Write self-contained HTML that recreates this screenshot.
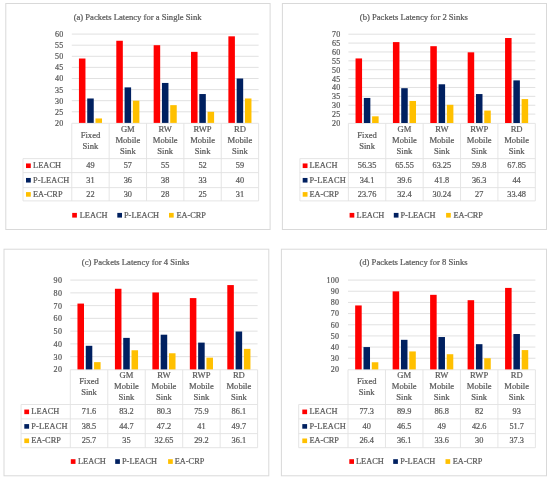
<!DOCTYPE html>
<html><head><meta charset="utf-8"><title>Packets Latency</title>
<style>
html,body{margin:0;padding:0;background:#fff;}
body{width:550px;height:480px;overflow:hidden;}
svg{display:block;}
.t{font-family:'Liberation Serif', serif;fill:#595959;stroke:#595959;stroke-width:0.22px;}
</style></head><body>
<svg width="550" height="480" viewBox="0 0 550 480">
<g>
<rect width="550" height="480" fill="#fff"/>
<rect x="5.8" y="3.5" width="264.3" height="226" fill="#fff" stroke="#d9d9d9" stroke-width="1"/>
<text x="137.6" y="19.6" text-anchor="middle" font-size="8.6" class="t">(a) Packets Latency for a Single Sink</text>
<text x="63.6" y="125.8" text-anchor="end" font-size="8.0" letter-spacing="0.3" class="t">20</text>
<line x1="71.8" x2="258.6" y1="111.8" y2="111.8" stroke="#dedede" stroke-width="0.9"/>
<text x="63.6" y="114.7" text-anchor="end" font-size="8.0" letter-spacing="0.3" class="t">25</text>
<line x1="71.8" x2="258.6" y1="100.7" y2="100.7" stroke="#dedede" stroke-width="0.9"/>
<text x="63.6" y="103.6" text-anchor="end" font-size="8.0" letter-spacing="0.3" class="t">30</text>
<line x1="71.8" x2="258.6" y1="89.6" y2="89.6" stroke="#dedede" stroke-width="0.9"/>
<text x="63.6" y="92.5" text-anchor="end" font-size="8.0" letter-spacing="0.3" class="t">35</text>
<line x1="71.8" x2="258.6" y1="78.5" y2="78.5" stroke="#dedede" stroke-width="0.9"/>
<text x="63.6" y="81.4" text-anchor="end" font-size="8.0" letter-spacing="0.3" class="t">40</text>
<line x1="71.8" x2="258.6" y1="67.4" y2="67.4" stroke="#dedede" stroke-width="0.9"/>
<text x="63.6" y="70.3" text-anchor="end" font-size="8.0" letter-spacing="0.3" class="t">45</text>
<line x1="71.8" x2="258.6" y1="56.3" y2="56.3" stroke="#dedede" stroke-width="0.9"/>
<text x="63.6" y="59.2" text-anchor="end" font-size="8.0" letter-spacing="0.3" class="t">50</text>
<line x1="71.8" x2="258.6" y1="45.2" y2="45.2" stroke="#dedede" stroke-width="0.9"/>
<text x="63.6" y="48.1" text-anchor="end" font-size="8.0" letter-spacing="0.3" class="t">55</text>
<line x1="71.8" x2="258.6" y1="34.1" y2="34.1" stroke="#dedede" stroke-width="0.9"/>
<text x="63.6" y="37" text-anchor="end" font-size="8.0" letter-spacing="0.3" class="t">60</text>
<line x1="71.8" y1="123.3" x2="71.8" y2="200.9" stroke="#e2e2e2" stroke-width="0.9"/>
<line x1="109.16" y1="123.3" x2="109.16" y2="200.9" stroke="#e2e2e2" stroke-width="0.9"/>
<line x1="146.52" y1="123.3" x2="146.52" y2="200.9" stroke="#e2e2e2" stroke-width="0.9"/>
<line x1="183.88" y1="123.3" x2="183.88" y2="200.9" stroke="#e2e2e2" stroke-width="0.9"/>
<line x1="221.24" y1="123.3" x2="221.24" y2="200.9" stroke="#e2e2e2" stroke-width="0.9"/>
<line x1="258.6" y1="123.3" x2="258.6" y2="200.9" stroke="#e2e2e2" stroke-width="0.9"/>
<line x1="23" y1="158.6" x2="23" y2="200.9" stroke="#e2e2e2" stroke-width="0.9"/>
<line x1="71.8" y1="123.3" x2="258.6" y2="123.3" stroke="#e2e2e2" stroke-width="0.9"/>
<line x1="23" y1="158.6" x2="258.6" y2="158.6" stroke="#e2e2e2" stroke-width="0.9"/>
<line x1="23" y1="172.6" x2="258.6" y2="172.6" stroke="#e2e2e2" stroke-width="0.9"/>
<line x1="23" y1="187.6" x2="258.6" y2="187.6" stroke="#e2e2e2" stroke-width="0.9"/>
<line x1="23" y1="200.9" x2="258.6" y2="200.9" stroke="#e2e2e2" stroke-width="0.9"/>
<rect x="78.94" y="58.52" width="6.52" height="64.38" fill="#ff0000"/>
<rect x="116.3" y="40.76" width="6.52" height="82.14" fill="#ff0000"/>
<rect x="153.66" y="45.2" width="6.52" height="77.7" fill="#ff0000"/>
<rect x="191.02" y="51.86" width="6.52" height="71.04" fill="#ff0000"/>
<rect x="228.38" y="36.32" width="6.52" height="86.58" fill="#ff0000"/>
<rect x="87.22" y="98.48" width="6.52" height="24.42" fill="#002060"/>
<rect x="124.58" y="87.38" width="6.52" height="35.52" fill="#002060"/>
<rect x="161.94" y="82.94" width="6.52" height="39.96" fill="#002060"/>
<rect x="199.3" y="94.04" width="6.52" height="28.86" fill="#002060"/>
<rect x="236.66" y="78.5" width="6.52" height="44.4" fill="#002060"/>
<rect x="95.5" y="118.46" width="6.52" height="4.44" fill="#ffc000"/>
<rect x="132.86" y="100.7" width="6.52" height="22.2" fill="#ffc000"/>
<rect x="170.22" y="105.14" width="6.52" height="17.76" fill="#ffc000"/>
<rect x="207.58" y="111.8" width="6.52" height="11.1" fill="#ffc000"/>
<rect x="244.94" y="98.48" width="6.52" height="24.42" fill="#ffc000"/>
<text x="90.48" y="137.65" text-anchor="middle" font-size="8.6" class="t">Fixed</text>
<text x="90.48" y="148.65" text-anchor="middle" font-size="8.6" class="t">Sink</text>
<text x="127.84" y="132.15" text-anchor="middle" font-size="8.6" class="t">GM</text>
<text x="127.84" y="143.15" text-anchor="middle" font-size="8.6" class="t">Mobile</text>
<text x="127.84" y="154.15" text-anchor="middle" font-size="8.6" class="t">Sink</text>
<text x="165.2" y="132.15" text-anchor="middle" font-size="8.6" class="t">RW</text>
<text x="165.2" y="143.15" text-anchor="middle" font-size="8.6" class="t">Mobile</text>
<text x="165.2" y="154.15" text-anchor="middle" font-size="8.6" class="t">Sink</text>
<text x="202.56" y="132.15" text-anchor="middle" font-size="8.6" class="t">RWP</text>
<text x="202.56" y="143.15" text-anchor="middle" font-size="8.6" class="t">Mobile</text>
<text x="202.56" y="154.15" text-anchor="middle" font-size="8.6" class="t">Sink</text>
<text x="239.92" y="132.15" text-anchor="middle" font-size="8.6" class="t">RD</text>
<text x="239.92" y="143.15" text-anchor="middle" font-size="8.6" class="t">Mobile</text>
<text x="239.92" y="154.15" text-anchor="middle" font-size="8.6" class="t">Sink</text>
<rect x="26" y="163.45" width="4.8" height="4.6" fill="#ff0000"/>
<text x="33" y="168.05" font-size="8.3" letter-spacing="0.1" class="t">LEACH</text>
<text x="90.48" y="168.05" text-anchor="middle" font-size="8.3" class="t">49</text>
<text x="127.84" y="168.05" text-anchor="middle" font-size="8.3" class="t">57</text>
<text x="165.2" y="168.05" text-anchor="middle" font-size="8.3" class="t">55</text>
<text x="202.56" y="168.05" text-anchor="middle" font-size="8.3" class="t">52</text>
<text x="239.92" y="168.05" text-anchor="middle" font-size="8.3" class="t">59</text>
<rect x="26" y="177.95" width="4.8" height="4.6" fill="#002060"/>
<text x="33" y="182.55" font-size="8.3" letter-spacing="0.2" class="t">P-LEACH</text>
<text x="90.48" y="182.55" text-anchor="middle" font-size="8.3" class="t">31</text>
<text x="127.84" y="182.55" text-anchor="middle" font-size="8.3" class="t">36</text>
<text x="165.2" y="182.55" text-anchor="middle" font-size="8.3" class="t">38</text>
<text x="202.56" y="182.55" text-anchor="middle" font-size="8.3" class="t">33</text>
<text x="239.92" y="182.55" text-anchor="middle" font-size="8.3" class="t">40</text>
<rect x="26" y="192.1" width="4.8" height="4.6" fill="#ffc000"/>
<text x="33" y="196.7" font-size="8.3" class="t">EA-CRP</text>
<text x="90.48" y="196.7" text-anchor="middle" font-size="8.3" class="t">22</text>
<text x="127.84" y="196.7" text-anchor="middle" font-size="8.3" class="t">30</text>
<text x="165.2" y="196.7" text-anchor="middle" font-size="8.3" class="t">28</text>
<text x="202.56" y="196.7" text-anchor="middle" font-size="8.3" class="t">25</text>
<text x="239.92" y="196.7" text-anchor="middle" font-size="8.3" class="t">31</text>
<rect x="72.2" y="212.9" width="4.7" height="4.7" fill="#ff0000"/>
<text x="79.8" y="217.8" font-size="8.3" class="t">LEACH</text>
<rect x="117.3" y="212.9" width="4.7" height="4.7" fill="#002060"/>
<text x="124" y="217.8" font-size="8.3" class="t">P-LEACH</text>
<rect x="169" y="212.9" width="4.7" height="4.7" fill="#ffc000"/>
<text x="176.4" y="217.8" font-size="8.3" class="t">EA-CRP</text>
<rect x="282.4" y="3.5" width="264.1" height="226" fill="#fff" stroke="#d9d9d9" stroke-width="1"/>
<text x="413.9" y="19.6" text-anchor="middle" font-size="8.6" class="t">(b) Packets Latency for 2 Sinks</text>
<text x="340.6" y="125.9" text-anchor="end" font-size="8.0" letter-spacing="0.3" class="t">20</text>
<line x1="348.4" x2="535.3" y1="114.12" y2="114.12" stroke="#dedede" stroke-width="0.9"/>
<text x="340.6" y="117.02" text-anchor="end" font-size="8.0" letter-spacing="0.3" class="t">25</text>
<line x1="348.4" x2="535.3" y1="105.24" y2="105.24" stroke="#dedede" stroke-width="0.9"/>
<text x="340.6" y="108.14" text-anchor="end" font-size="8.0" letter-spacing="0.3" class="t">30</text>
<line x1="348.4" x2="535.3" y1="96.36" y2="96.36" stroke="#dedede" stroke-width="0.9"/>
<text x="340.6" y="99.26" text-anchor="end" font-size="8.0" letter-spacing="0.3" class="t">35</text>
<line x1="348.4" x2="535.3" y1="87.48" y2="87.48" stroke="#dedede" stroke-width="0.9"/>
<text x="340.6" y="90.38" text-anchor="end" font-size="8.0" letter-spacing="0.3" class="t">40</text>
<line x1="348.4" x2="535.3" y1="78.6" y2="78.6" stroke="#dedede" stroke-width="0.9"/>
<text x="340.6" y="81.5" text-anchor="end" font-size="8.0" letter-spacing="0.3" class="t">45</text>
<line x1="348.4" x2="535.3" y1="69.72" y2="69.72" stroke="#dedede" stroke-width="0.9"/>
<text x="340.6" y="72.62" text-anchor="end" font-size="8.0" letter-spacing="0.3" class="t">50</text>
<line x1="348.4" x2="535.3" y1="60.84" y2="60.84" stroke="#dedede" stroke-width="0.9"/>
<text x="340.6" y="63.74" text-anchor="end" font-size="8.0" letter-spacing="0.3" class="t">55</text>
<line x1="348.4" x2="535.3" y1="51.96" y2="51.96" stroke="#dedede" stroke-width="0.9"/>
<text x="340.6" y="54.86" text-anchor="end" font-size="8.0" letter-spacing="0.3" class="t">60</text>
<line x1="348.4" x2="535.3" y1="43.08" y2="43.08" stroke="#dedede" stroke-width="0.9"/>
<text x="340.6" y="45.98" text-anchor="end" font-size="8.0" letter-spacing="0.3" class="t">65</text>
<line x1="348.4" x2="535.3" y1="34.2" y2="34.2" stroke="#dedede" stroke-width="0.9"/>
<text x="340.6" y="37.1" text-anchor="end" font-size="8.0" letter-spacing="0.3" class="t">70</text>
<line x1="348.4" y1="123.4" x2="348.4" y2="200.9" stroke="#e2e2e2" stroke-width="0.9"/>
<line x1="385.78" y1="123.4" x2="385.78" y2="200.9" stroke="#e2e2e2" stroke-width="0.9"/>
<line x1="423.16" y1="123.4" x2="423.16" y2="200.9" stroke="#e2e2e2" stroke-width="0.9"/>
<line x1="460.54" y1="123.4" x2="460.54" y2="200.9" stroke="#e2e2e2" stroke-width="0.9"/>
<line x1="497.92" y1="123.4" x2="497.92" y2="200.9" stroke="#e2e2e2" stroke-width="0.9"/>
<line x1="535.3" y1="123.4" x2="535.3" y2="200.9" stroke="#e2e2e2" stroke-width="0.9"/>
<line x1="299.9" y1="158.6" x2="299.9" y2="200.9" stroke="#e2e2e2" stroke-width="0.9"/>
<line x1="348.4" y1="123.4" x2="535.3" y2="123.4" stroke="#e2e2e2" stroke-width="0.9"/>
<line x1="299.9" y1="158.6" x2="535.3" y2="158.6" stroke="#e2e2e2" stroke-width="0.9"/>
<line x1="299.9" y1="172.6" x2="535.3" y2="172.6" stroke="#e2e2e2" stroke-width="0.9"/>
<line x1="299.9" y1="187.6" x2="535.3" y2="187.6" stroke="#e2e2e2" stroke-width="0.9"/>
<line x1="299.9" y1="200.9" x2="535.3" y2="200.9" stroke="#e2e2e2" stroke-width="0.9"/>
<rect x="355.54" y="58.44" width="6.52" height="64.56" fill="#ff0000"/>
<rect x="392.92" y="42.1" width="6.52" height="80.9" fill="#ff0000"/>
<rect x="430.3" y="46.19" width="6.52" height="76.81" fill="#ff0000"/>
<rect x="467.68" y="52.32" width="6.52" height="70.68" fill="#ff0000"/>
<rect x="505.06" y="38.02" width="6.52" height="84.98" fill="#ff0000"/>
<rect x="363.83" y="97.96" width="6.52" height="25.04" fill="#002060"/>
<rect x="401.21" y="88.19" width="6.52" height="34.81" fill="#002060"/>
<rect x="438.59" y="84.28" width="6.52" height="38.72" fill="#002060"/>
<rect x="475.97" y="94.05" width="6.52" height="28.95" fill="#002060"/>
<rect x="513.35" y="80.38" width="6.52" height="42.62" fill="#002060"/>
<rect x="372.11" y="116.32" width="6.52" height="6.68" fill="#ffc000"/>
<rect x="409.49" y="100.98" width="6.52" height="22.02" fill="#ffc000"/>
<rect x="446.87" y="104.81" width="6.52" height="18.19" fill="#ffc000"/>
<rect x="484.25" y="110.57" width="6.52" height="12.43" fill="#ffc000"/>
<rect x="521.63" y="99.06" width="6.52" height="23.94" fill="#ffc000"/>
<text x="367.09" y="137.7" text-anchor="middle" font-size="8.6" class="t">Fixed</text>
<text x="367.09" y="148.7" text-anchor="middle" font-size="8.6" class="t">Sink</text>
<text x="404.47" y="132.2" text-anchor="middle" font-size="8.6" class="t">GM</text>
<text x="404.47" y="143.2" text-anchor="middle" font-size="8.6" class="t">Mobile</text>
<text x="404.47" y="154.2" text-anchor="middle" font-size="8.6" class="t">Sink</text>
<text x="441.85" y="132.2" text-anchor="middle" font-size="8.6" class="t">RW</text>
<text x="441.85" y="143.2" text-anchor="middle" font-size="8.6" class="t">Mobile</text>
<text x="441.85" y="154.2" text-anchor="middle" font-size="8.6" class="t">Sink</text>
<text x="479.23" y="132.2" text-anchor="middle" font-size="8.6" class="t">RWP</text>
<text x="479.23" y="143.2" text-anchor="middle" font-size="8.6" class="t">Mobile</text>
<text x="479.23" y="154.2" text-anchor="middle" font-size="8.6" class="t">Sink</text>
<text x="516.61" y="132.2" text-anchor="middle" font-size="8.6" class="t">RD</text>
<text x="516.61" y="143.2" text-anchor="middle" font-size="8.6" class="t">Mobile</text>
<text x="516.61" y="154.2" text-anchor="middle" font-size="8.6" class="t">Sink</text>
<rect x="302.7" y="163.45" width="4.8" height="4.6" fill="#ff0000"/>
<text x="309.4" y="168.05" font-size="8.3" letter-spacing="0.1" class="t">LEACH</text>
<text x="367.09" y="168.05" text-anchor="middle" font-size="8.3" class="t">56.35</text>
<text x="404.47" y="168.05" text-anchor="middle" font-size="8.3" class="t">65.55</text>
<text x="441.85" y="168.05" text-anchor="middle" font-size="8.3" class="t">63.25</text>
<text x="479.23" y="168.05" text-anchor="middle" font-size="8.3" class="t">59.8</text>
<text x="516.61" y="168.05" text-anchor="middle" font-size="8.3" class="t">67.85</text>
<rect x="302.7" y="177.95" width="4.8" height="4.6" fill="#002060"/>
<text x="309.4" y="182.55" font-size="8.3" letter-spacing="0.2" class="t">P-LEACH</text>
<text x="367.09" y="182.55" text-anchor="middle" font-size="8.3" class="t">34.1</text>
<text x="404.47" y="182.55" text-anchor="middle" font-size="8.3" class="t">39.6</text>
<text x="441.85" y="182.55" text-anchor="middle" font-size="8.3" class="t">41.8</text>
<text x="479.23" y="182.55" text-anchor="middle" font-size="8.3" class="t">36.3</text>
<text x="516.61" y="182.55" text-anchor="middle" font-size="8.3" class="t">44</text>
<rect x="302.7" y="192.1" width="4.8" height="4.6" fill="#ffc000"/>
<text x="309.4" y="196.7" font-size="8.3" class="t">EA-CRP</text>
<text x="367.09" y="196.7" text-anchor="middle" font-size="8.3" class="t">23.76</text>
<text x="404.47" y="196.7" text-anchor="middle" font-size="8.3" class="t">32.4</text>
<text x="441.85" y="196.7" text-anchor="middle" font-size="8.3" class="t">30.24</text>
<text x="479.23" y="196.7" text-anchor="middle" font-size="8.3" class="t">27</text>
<text x="516.61" y="196.7" text-anchor="middle" font-size="8.3" class="t">33.48</text>
<rect x="349.6" y="212.9" width="4.7" height="4.7" fill="#ff0000"/>
<text x="356.6" y="217.8" font-size="8.3" class="t">LEACH</text>
<rect x="393.8" y="212.9" width="4.7" height="4.7" fill="#002060"/>
<text x="400.5" y="217.8" font-size="8.3" class="t">P-LEACH</text>
<rect x="446.1" y="212.9" width="4.7" height="4.7" fill="#ffc000"/>
<text x="453.4" y="217.8" font-size="8.3" class="t">EA-CRP</text>
<rect x="4" y="249.2" width="264.8" height="226.6" fill="#fff" stroke="#d9d9d9" stroke-width="1"/>
<text x="135.6" y="264.6" text-anchor="middle" font-size="8.6" class="t">(c) Packets Latency for 4 Sinks</text>
<text x="62.2" y="372.3" text-anchor="end" font-size="8.0" letter-spacing="0.3" class="t">20</text>
<line x1="70.3" x2="257.6" y1="356.64" y2="356.64" stroke="#dedede" stroke-width="0.9"/>
<text x="62.2" y="359.54" text-anchor="end" font-size="8.0" letter-spacing="0.3" class="t">30</text>
<line x1="70.3" x2="257.6" y1="343.89" y2="343.89" stroke="#dedede" stroke-width="0.9"/>
<text x="62.2" y="346.79" text-anchor="end" font-size="8.0" letter-spacing="0.3" class="t">40</text>
<line x1="70.3" x2="257.6" y1="331.13" y2="331.13" stroke="#dedede" stroke-width="0.9"/>
<text x="62.2" y="334.03" text-anchor="end" font-size="8.0" letter-spacing="0.3" class="t">50</text>
<line x1="70.3" x2="257.6" y1="318.37" y2="318.37" stroke="#dedede" stroke-width="0.9"/>
<text x="62.2" y="321.27" text-anchor="end" font-size="8.0" letter-spacing="0.3" class="t">60</text>
<line x1="70.3" x2="257.6" y1="305.61" y2="305.61" stroke="#dedede" stroke-width="0.9"/>
<text x="62.2" y="308.51" text-anchor="end" font-size="8.0" letter-spacing="0.3" class="t">70</text>
<line x1="70.3" x2="257.6" y1="292.86" y2="292.86" stroke="#dedede" stroke-width="0.9"/>
<text x="62.2" y="295.76" text-anchor="end" font-size="8.0" letter-spacing="0.3" class="t">80</text>
<line x1="70.3" x2="257.6" y1="280.1" y2="280.1" stroke="#dedede" stroke-width="0.9"/>
<text x="62.2" y="283" text-anchor="end" font-size="8.0" letter-spacing="0.3" class="t">90</text>
<line x1="70.3" y1="369.8" x2="70.3" y2="447.7" stroke="#e2e2e2" stroke-width="0.9"/>
<line x1="107.76" y1="369.8" x2="107.76" y2="447.7" stroke="#e2e2e2" stroke-width="0.9"/>
<line x1="145.22" y1="369.8" x2="145.22" y2="447.7" stroke="#e2e2e2" stroke-width="0.9"/>
<line x1="182.68" y1="369.8" x2="182.68" y2="447.7" stroke="#e2e2e2" stroke-width="0.9"/>
<line x1="220.14" y1="369.8" x2="220.14" y2="447.7" stroke="#e2e2e2" stroke-width="0.9"/>
<line x1="257.6" y1="369.8" x2="257.6" y2="447.7" stroke="#e2e2e2" stroke-width="0.9"/>
<line x1="21.1" y1="404.5" x2="21.1" y2="447.7" stroke="#e2e2e2" stroke-width="0.9"/>
<line x1="70.3" y1="369.8" x2="257.6" y2="369.8" stroke="#e2e2e2" stroke-width="0.9"/>
<line x1="21.1" y1="404.5" x2="257.6" y2="404.5" stroke="#e2e2e2" stroke-width="0.9"/>
<line x1="21.1" y1="418.9" x2="257.6" y2="418.9" stroke="#e2e2e2" stroke-width="0.9"/>
<line x1="21.1" y1="433.6" x2="257.6" y2="433.6" stroke="#e2e2e2" stroke-width="0.9"/>
<line x1="21.1" y1="447.7" x2="257.6" y2="447.7" stroke="#e2e2e2" stroke-width="0.9"/>
<rect x="77.46" y="303.57" width="6.54" height="65.83" fill="#ff0000"/>
<rect x="114.92" y="288.77" width="6.54" height="80.63" fill="#ff0000"/>
<rect x="152.38" y="292.47" width="6.54" height="76.93" fill="#ff0000"/>
<rect x="189.84" y="298.09" width="6.54" height="71.31" fill="#ff0000"/>
<rect x="227.3" y="285.08" width="6.54" height="84.32" fill="#ff0000"/>
<rect x="85.76" y="345.8" width="6.54" height="23.6" fill="#002060"/>
<rect x="123.22" y="337.89" width="6.54" height="31.51" fill="#002060"/>
<rect x="160.68" y="334.7" width="6.54" height="34.7" fill="#002060"/>
<rect x="198.14" y="342.61" width="6.54" height="26.79" fill="#002060"/>
<rect x="235.6" y="331.51" width="6.54" height="37.89" fill="#002060"/>
<rect x="94.06" y="362.13" width="6.54" height="7.27" fill="#ffc000"/>
<rect x="131.52" y="350.26" width="6.54" height="19.14" fill="#ffc000"/>
<rect x="168.98" y="353.26" width="6.54" height="16.14" fill="#ffc000"/>
<rect x="206.44" y="357.66" width="6.54" height="11.74" fill="#ffc000"/>
<rect x="243.9" y="348.86" width="6.54" height="20.54" fill="#ffc000"/>
<text x="89.03" y="383.85" text-anchor="middle" font-size="8.6" class="t">Fixed</text>
<text x="89.03" y="394.85" text-anchor="middle" font-size="8.6" class="t">Sink</text>
<text x="126.49" y="378.35" text-anchor="middle" font-size="8.6" class="t">GM</text>
<text x="126.49" y="389.35" text-anchor="middle" font-size="8.6" class="t">Mobile</text>
<text x="126.49" y="400.35" text-anchor="middle" font-size="8.6" class="t">Sink</text>
<text x="163.95" y="378.35" text-anchor="middle" font-size="8.6" class="t">RW</text>
<text x="163.95" y="389.35" text-anchor="middle" font-size="8.6" class="t">Mobile</text>
<text x="163.95" y="400.35" text-anchor="middle" font-size="8.6" class="t">Sink</text>
<text x="201.41" y="378.35" text-anchor="middle" font-size="8.6" class="t">RWP</text>
<text x="201.41" y="389.35" text-anchor="middle" font-size="8.6" class="t">Mobile</text>
<text x="201.41" y="400.35" text-anchor="middle" font-size="8.6" class="t">Sink</text>
<text x="238.87" y="378.35" text-anchor="middle" font-size="8.6" class="t">RD</text>
<text x="238.87" y="389.35" text-anchor="middle" font-size="8.6" class="t">Mobile</text>
<text x="238.87" y="400.35" text-anchor="middle" font-size="8.6" class="t">Sink</text>
<rect x="24.3" y="409.55" width="4.8" height="4.6" fill="#ff0000"/>
<text x="31.3" y="414.15" font-size="8.3" letter-spacing="0.1" class="t">LEACH</text>
<text x="89.03" y="414.15" text-anchor="middle" font-size="8.3" class="t">71.6</text>
<text x="126.49" y="414.15" text-anchor="middle" font-size="8.3" class="t">83.2</text>
<text x="163.95" y="414.15" text-anchor="middle" font-size="8.3" class="t">80.3</text>
<text x="201.41" y="414.15" text-anchor="middle" font-size="8.3" class="t">75.9</text>
<text x="238.87" y="414.15" text-anchor="middle" font-size="8.3" class="t">86.1</text>
<rect x="24.3" y="424.1" width="4.8" height="4.6" fill="#002060"/>
<text x="31.3" y="428.7" font-size="8.3" letter-spacing="0.2" class="t">P-LEACH</text>
<text x="89.03" y="428.7" text-anchor="middle" font-size="8.3" class="t">38.5</text>
<text x="126.49" y="428.7" text-anchor="middle" font-size="8.3" class="t">44.7</text>
<text x="163.95" y="428.7" text-anchor="middle" font-size="8.3" class="t">47.2</text>
<text x="201.41" y="428.7" text-anchor="middle" font-size="8.3" class="t">41</text>
<text x="238.87" y="428.7" text-anchor="middle" font-size="8.3" class="t">49.7</text>
<rect x="24.3" y="438.5" width="4.8" height="4.6" fill="#ffc000"/>
<text x="31.3" y="443.1" font-size="8.3" class="t">EA-CRP</text>
<text x="89.03" y="443.1" text-anchor="middle" font-size="8.3" class="t">25.7</text>
<text x="126.49" y="443.1" text-anchor="middle" font-size="8.3" class="t">35</text>
<text x="163.95" y="443.1" text-anchor="middle" font-size="8.3" class="t">32.65</text>
<text x="201.41" y="443.1" text-anchor="middle" font-size="8.3" class="t">29.2</text>
<text x="238.87" y="443.1" text-anchor="middle" font-size="8.3" class="t">36.1</text>
<rect x="70.8" y="459.2" width="4.7" height="4.7" fill="#ff0000"/>
<text x="78" y="464.1" font-size="8.3" class="t">LEACH</text>
<rect x="115.2" y="459.2" width="4.7" height="4.7" fill="#002060"/>
<text x="122" y="464.1" font-size="8.3" class="t">P-LEACH</text>
<rect x="168.1" y="459.2" width="4.7" height="4.7" fill="#ffc000"/>
<text x="174.8" y="464.1" font-size="8.3" class="t">EA-CRP</text>
<rect x="281.4" y="249.2" width="265.1" height="226.6" fill="#fff" stroke="#d9d9d9" stroke-width="1"/>
<text x="413.5" y="264.6" text-anchor="middle" font-size="8.6" class="t">(d) Packets Latency for 8 Sinks</text>
<text x="339.4" y="372.3" text-anchor="end" font-size="8.0" letter-spacing="0.3" class="t">20</text>
<line x1="348" x2="535.4" y1="358.24" y2="358.24" stroke="#dedede" stroke-width="0.9"/>
<text x="339.4" y="361.14" text-anchor="end" font-size="8.0" letter-spacing="0.3" class="t">30</text>
<line x1="348" x2="535.4" y1="347.07" y2="347.07" stroke="#dedede" stroke-width="0.9"/>
<text x="339.4" y="349.97" text-anchor="end" font-size="8.0" letter-spacing="0.3" class="t">40</text>
<line x1="348" x2="535.4" y1="335.91" y2="335.91" stroke="#dedede" stroke-width="0.9"/>
<text x="339.4" y="338.81" text-anchor="end" font-size="8.0" letter-spacing="0.3" class="t">50</text>
<line x1="348" x2="535.4" y1="324.75" y2="324.75" stroke="#dedede" stroke-width="0.9"/>
<text x="339.4" y="327.65" text-anchor="end" font-size="8.0" letter-spacing="0.3" class="t">60</text>
<line x1="348" x2="535.4" y1="313.59" y2="313.59" stroke="#dedede" stroke-width="0.9"/>
<text x="339.4" y="316.49" text-anchor="end" font-size="8.0" letter-spacing="0.3" class="t">70</text>
<line x1="348" x2="535.4" y1="302.43" y2="302.43" stroke="#dedede" stroke-width="0.9"/>
<text x="339.4" y="305.32" text-anchor="end" font-size="8.0" letter-spacing="0.3" class="t">80</text>
<line x1="348" x2="535.4" y1="291.26" y2="291.26" stroke="#dedede" stroke-width="0.9"/>
<text x="339.4" y="294.16" text-anchor="end" font-size="8.0" letter-spacing="0.3" class="t">90</text>
<line x1="348" x2="535.4" y1="280.1" y2="280.1" stroke="#dedede" stroke-width="0.9"/>
<text x="339.4" y="283" text-anchor="end" font-size="8.0" letter-spacing="0.3" class="t">100</text>
<line x1="348" y1="369.8" x2="348" y2="447.7" stroke="#e2e2e2" stroke-width="0.9"/>
<line x1="385.48" y1="369.8" x2="385.48" y2="447.7" stroke="#e2e2e2" stroke-width="0.9"/>
<line x1="422.96" y1="369.8" x2="422.96" y2="447.7" stroke="#e2e2e2" stroke-width="0.9"/>
<line x1="460.44" y1="369.8" x2="460.44" y2="447.7" stroke="#e2e2e2" stroke-width="0.9"/>
<line x1="497.92" y1="369.8" x2="497.92" y2="447.7" stroke="#e2e2e2" stroke-width="0.9"/>
<line x1="535.4" y1="369.8" x2="535.4" y2="447.7" stroke="#e2e2e2" stroke-width="0.9"/>
<line x1="298.7" y1="404.5" x2="298.7" y2="447.7" stroke="#e2e2e2" stroke-width="0.9"/>
<line x1="348" y1="369.8" x2="535.4" y2="369.8" stroke="#e2e2e2" stroke-width="0.9"/>
<line x1="298.7" y1="404.5" x2="535.4" y2="404.5" stroke="#e2e2e2" stroke-width="0.9"/>
<line x1="298.7" y1="418.9" x2="535.4" y2="418.9" stroke="#e2e2e2" stroke-width="0.9"/>
<line x1="298.7" y1="433.6" x2="535.4" y2="433.6" stroke="#e2e2e2" stroke-width="0.9"/>
<line x1="298.7" y1="447.7" x2="535.4" y2="447.7" stroke="#e2e2e2" stroke-width="0.9"/>
<rect x="355.16" y="305.44" width="6.54" height="63.96" fill="#ff0000"/>
<rect x="392.64" y="291.37" width="6.54" height="78.03" fill="#ff0000"/>
<rect x="430.12" y="294.83" width="6.54" height="74.57" fill="#ff0000"/>
<rect x="467.6" y="300.19" width="6.54" height="69.21" fill="#ff0000"/>
<rect x="505.08" y="287.91" width="6.54" height="81.49" fill="#ff0000"/>
<rect x="363.47" y="347.07" width="6.54" height="22.32" fill="#002060"/>
<rect x="400.95" y="339.82" width="6.54" height="29.58" fill="#002060"/>
<rect x="438.43" y="337.03" width="6.54" height="32.37" fill="#002060"/>
<rect x="475.91" y="344.17" width="6.54" height="25.23" fill="#002060"/>
<rect x="513.39" y="334.01" width="6.54" height="35.39" fill="#002060"/>
<rect x="371.78" y="362.26" width="6.54" height="7.14" fill="#ffc000"/>
<rect x="409.26" y="351.43" width="6.54" height="17.97" fill="#ffc000"/>
<rect x="446.74" y="354.22" width="6.54" height="15.18" fill="#ffc000"/>
<rect x="484.22" y="358.24" width="6.54" height="11.16" fill="#ffc000"/>
<rect x="521.7" y="350.09" width="6.54" height="19.31" fill="#ffc000"/>
<text x="366.74" y="383.85" text-anchor="middle" font-size="8.6" class="t">Fixed</text>
<text x="366.74" y="394.85" text-anchor="middle" font-size="8.6" class="t">Sink</text>
<text x="404.22" y="378.35" text-anchor="middle" font-size="8.6" class="t">GM</text>
<text x="404.22" y="389.35" text-anchor="middle" font-size="8.6" class="t">Mobile</text>
<text x="404.22" y="400.35" text-anchor="middle" font-size="8.6" class="t">Sink</text>
<text x="441.7" y="378.35" text-anchor="middle" font-size="8.6" class="t">RW</text>
<text x="441.7" y="389.35" text-anchor="middle" font-size="8.6" class="t">Mobile</text>
<text x="441.7" y="400.35" text-anchor="middle" font-size="8.6" class="t">Sink</text>
<text x="479.18" y="378.35" text-anchor="middle" font-size="8.6" class="t">RWP</text>
<text x="479.18" y="389.35" text-anchor="middle" font-size="8.6" class="t">Mobile</text>
<text x="479.18" y="400.35" text-anchor="middle" font-size="8.6" class="t">Sink</text>
<text x="516.66" y="378.35" text-anchor="middle" font-size="8.6" class="t">RD</text>
<text x="516.66" y="389.35" text-anchor="middle" font-size="8.6" class="t">Mobile</text>
<text x="516.66" y="400.35" text-anchor="middle" font-size="8.6" class="t">Sink</text>
<rect x="302.3" y="409.55" width="4.8" height="4.6" fill="#ff0000"/>
<text x="309.4" y="414.15" font-size="8.3" letter-spacing="0.1" class="t">LEACH</text>
<text x="366.74" y="414.15" text-anchor="middle" font-size="8.3" class="t">77.3</text>
<text x="404.22" y="414.15" text-anchor="middle" font-size="8.3" class="t">89.9</text>
<text x="441.7" y="414.15" text-anchor="middle" font-size="8.3" class="t">86.8</text>
<text x="479.18" y="414.15" text-anchor="middle" font-size="8.3" class="t">82</text>
<text x="516.66" y="414.15" text-anchor="middle" font-size="8.3" class="t">93</text>
<rect x="302.3" y="424.1" width="4.8" height="4.6" fill="#002060"/>
<text x="309.4" y="428.7" font-size="8.3" letter-spacing="0.2" class="t">P-LEACH</text>
<text x="366.74" y="428.7" text-anchor="middle" font-size="8.3" class="t">40</text>
<text x="404.22" y="428.7" text-anchor="middle" font-size="8.3" class="t">46.5</text>
<text x="441.7" y="428.7" text-anchor="middle" font-size="8.3" class="t">49</text>
<text x="479.18" y="428.7" text-anchor="middle" font-size="8.3" class="t">42.6</text>
<text x="516.66" y="428.7" text-anchor="middle" font-size="8.3" class="t">51.7</text>
<rect x="302.3" y="438.5" width="4.8" height="4.6" fill="#ffc000"/>
<text x="309.4" y="443.1" font-size="8.3" class="t">EA-CRP</text>
<text x="366.74" y="443.1" text-anchor="middle" font-size="8.3" class="t">26.4</text>
<text x="404.22" y="443.1" text-anchor="middle" font-size="8.3" class="t">36.1</text>
<text x="441.7" y="443.1" text-anchor="middle" font-size="8.3" class="t">33.6</text>
<text x="479.18" y="443.1" text-anchor="middle" font-size="8.3" class="t">30</text>
<text x="516.66" y="443.1" text-anchor="middle" font-size="8.3" class="t">37.3</text>
<rect x="349.3" y="459.2" width="4.7" height="4.7" fill="#ff0000"/>
<text x="356" y="464.1" font-size="8.3" class="t">LEACH</text>
<rect x="393.2" y="459.2" width="4.7" height="4.7" fill="#002060"/>
<text x="400.2" y="464.1" font-size="8.3" class="t">P-LEACH</text>
<rect x="445.5" y="459.2" width="4.7" height="4.7" fill="#ffc000"/>
<text x="452.8" y="464.1" font-size="8.3" class="t">EA-CRP</text>
</g>
</svg>
</body></html>
